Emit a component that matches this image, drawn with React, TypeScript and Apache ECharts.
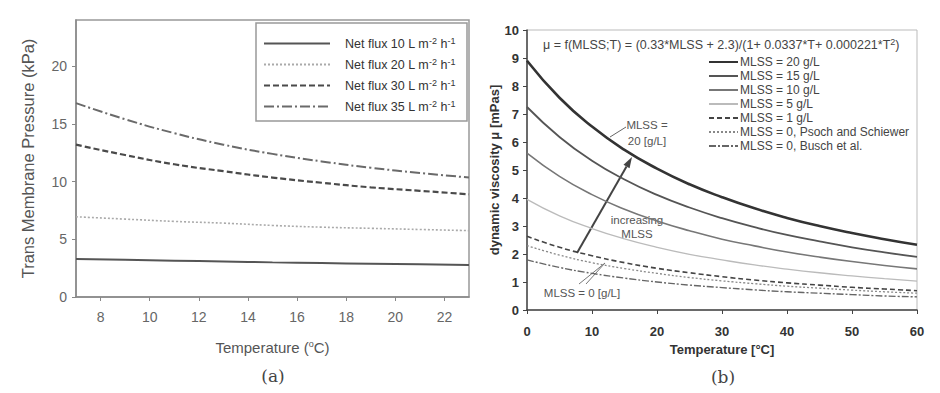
import React, { useEffect, useRef } from "react";
import * as echarts from "echarts";

// ---------- data ----------
const leftT = [7, 9, 11, 13, 15, 17, 19, 21, 23];
const flux10 = [3.3, 3.22, 3.15, 3.08, 3.0, 2.94, 2.88, 2.83, 2.78];
const flux20 = [6.95, 6.75, 6.55, 6.4, 6.2, 6.05, 5.95, 5.85, 5.75];
const flux30 = [13.2, 12.3, 11.5, 10.9, 10.35, 9.9, 9.5, 9.2, 8.9];
const flux35 = [16.8, 15.4, 14.2, 13.2, 12.4, 11.75, 11.2, 10.75, 10.35];
const leftXTicks = [8, 10, 12, 14, 16, 18, 20, 22];
const leftYTicks = [0, 5, 10, 15, 20];

const rightT = [0, 5, 10, 15, 20, 25, 30, 35, 40, 45, 50, 55, 60];
const mlss20 = [8.9, 7.58, 6.55, 5.72, 5.05, 4.49, 4.03, 3.63, 3.29, 3.0, 2.75, 2.53, 2.33];
const mlss15 = [7.25, 6.18, 5.33, 4.66, 4.11, 3.66, 3.28, 2.96, 2.68, 2.45, 2.24, 2.06, 1.9];
const mlss10 = [5.6, 4.77, 4.12, 3.6, 3.18, 2.83, 2.53, 2.29, 2.07, 1.89, 1.73, 1.59, 1.47];
const mlss5 = [3.95, 3.36, 2.91, 2.54, 2.24, 1.99, 1.79, 1.61, 1.46, 1.33, 1.22, 1.12, 1.03];
const mlss1 = [2.63, 2.24, 1.94, 1.69, 1.49, 1.33, 1.19, 1.07, 0.97, 0.89, 0.81, 0.75, 0.69];
const psoch0 = [2.3, 1.96, 1.69, 1.48, 1.31, 1.16, 1.04, 0.94, 0.85, 0.78, 0.71, 0.65, 0.6];
const busch0 = [1.79, 1.52, 1.31, 1.14, 1.0, 0.89, 0.8, 0.72, 0.65, 0.6, 0.55, 0.5, 0.47];

const leftNames = [
  "Net flux 10 L m-2 h-1",
  "Net flux 20 L m-2 h-1",
  "Net flux 30 L m-2 h-1",
  "Net flux 35 L m-2 h-1",
];
const rightNames = [
  "MLSS = 20 g/L",
  "MLSS = 15 g/L",
  "MLSS = 10 g/L",
  "MLSS = 5 g/L",
  "MLSS = 1 g/L",
  "MLSS = 0, Psoch and Schiewer",
  "MLSS = 0, Busch et al.",
];

const zip = (xs: number[], ys: number[]) => xs.map((x, i) => [x, ys[i]]);

const supRich = {
  s: { fontSize: 9, lineHeight: 6, verticalAlign: "top" as const },
};

export default function App() {
  const ref = useRef<HTMLDivElement>(null);

  useEffect(() => {
    if (!ref.current) return;
    const chart = echarts.init(ref.current, undefined, { renderer: "svg" });

    const leftStyles = [
      { color: "#555", width: 2, type: "solid" as any },
      { color: "#aaa", width: 1.6, type: [2, 2] as any },
      { color: "#4a4a4a", width: 2.2, type: [6, 3] as any },
      { color: "#6a6a6a", width: 2, type: [10, 3, 2, 3] as any },
    ];
    const leftData = [flux10, flux20, flux30, flux35];
    const rightStyles = [
      { color: "#333", width: 2.6, type: "solid" as any },
      { color: "#555", width: 1.8, type: "solid" as any },
      { color: "#777", width: 1.6, type: "solid" as any },
      { color: "#bbb", width: 1.3, type: "solid" as any },
      { color: "#444", width: 1.6, type: [5, 3] as any },
      { color: "#888", width: 1.3, type: [2, 2] as any },
      { color: "#666", width: 1.4, type: [7, 2, 2, 2] as any },
    ];
    const rightData = [mlss20, mlss15, mlss10, mlss5, mlss1, psoch0, busch0];

    const series: any[] = [];
    leftNames.forEach((n, i) => {
      series.push({
        type: "line",
        name: n,
        xAxisIndex: 0,
        yAxisIndex: 0,
        data: zip(leftT, leftData[i]),
        smooth: true,
        showSymbol: false,
        symbol: "none",
        lineStyle: leftStyles[i],
        itemStyle: { color: leftStyles[i].color },
      });
    });
    rightNames.forEach((n, i) => {
      series.push({
        type: "line",
        name: n,
        xAxisIndex: 1,
        yAxisIndex: 1,
        data: zip(rightT, rightData[i]),
        smooth: true,
        showSymbol: false,
        symbol: "none",
        lineStyle: rightStyles[i],
        itemStyle: { color: rightStyles[i].color },
      });
    });

    const font = "Liberation Sans, Arial, sans-serif";

    // arrow geometry
    const tip = [632, 157];
    const tail = [577, 253];
    const dx = tip[0] - tail[0];
    const dy = tip[1] - tail[1];
    const len = Math.sqrt(dx * dx + dy * dy);
    const ux = dx / len;
    const uy = dy / len;
    const bx = tip[0] - 11 * ux;
    const by = tip[1] - 11 * uy;
    const px = -uy;
    const py = ux;

    chart.setOption({
      animation: false,
      textStyle: { fontFamily: font },
      grid: [
        {
          left: 76,
          top: 20,
          width: 393,
          height: 277,
          show: true,
          borderColor: "#999",
          borderWidth: 1.5,
          backgroundColor: "transparent",
        },
        {
          left: 527,
          top: 30,
          width: 390,
          height: 280,
          show: true,
          borderColor: "#bbb",
          borderWidth: 1,
          backgroundColor: "transparent",
        },
      ],
      xAxis: [
        {
          type: "value",
          gridIndex: 0,
          min: 7,
          max: 23,
          splitLine: { show: false },
          axisLine: { lineStyle: { color: "#888", width: 1.5 } },
          axisTick: {
            customValues: leftXTicks,
            length: 4,
            lineStyle: { color: "#888" },
          },
          axisLabel: {
            customValues: leftXTicks,
            fontSize: 14,
            color: "#666",
            margin: 13,
          },
          name: "Temperature ({s|o}C)",
          nameLocation: "middle",
          nameGap: 42,
          nameTextStyle: {
            fontSize: 15,
            color: "#555",
            lineHeight: 16,
            rich: { s: { fontSize: 9, lineHeight: 8, verticalAlign: "top" } },
          },
        },
        {
          type: "value",
          gridIndex: 1,
          min: 0,
          max: 60,
          interval: 10,
          splitLine: { show: false },
          axisLine: { lineStyle: { color: "#444", width: 1.5 } },
          axisTick: { length: 4, lineStyle: { color: "#444" } },
          axisLabel: {
            fontSize: 13,
            fontWeight: "bold",
            color: "#333",
            margin: 15,
          },
          name: "Temperature [°C]",
          nameLocation: "middle",
          nameGap: 33,
          nameTextStyle: { fontSize: 13, fontWeight: "bold", color: "#333" },
        },
      ],
      yAxis: [
        {
          type: "value",
          gridIndex: 0,
          min: 0,
          max: 24,
          splitLine: { show: false },
          axisLine: { show: true, lineStyle: { color: "#888", width: 1.5 } },
          axisTick: {
            show: true,
            customValues: leftYTicks,
            length: 4,
            lineStyle: { color: "#888" },
          },
          axisLabel: {
            customValues: leftYTicks,
            fontSize: 14,
            color: "#666",
            margin: 9,
          },
          name: "Trans Membrane Pressure (kPa)",
          nameLocation: "middle",
          nameRotate: 90,
          nameGap: 40,
          nameTextStyle: { fontSize: 16.5, color: "#555" },
        },
        {
          type: "value",
          gridIndex: 1,
          min: 0,
          max: 10,
          interval: 1,
          splitLine: { show: false },
          axisLine: { show: true, lineStyle: { color: "#444", width: 1.5 } },
          axisTick: { show: true, length: 4, lineStyle: { color: "#444" } },
          axisLabel: {
            fontSize: 13,
            fontWeight: "bold",
            color: "#333",
            margin: 8,
          },
          name: "dynamic viscosity μ [mPas]",
          nameLocation: "middle",
          nameRotate: 90,
          nameGap: 25,
          nameTextStyle: { fontSize: 13, fontWeight: "bold", color: "#333" },
        },
      ],
      legend: [
        {
          data: leftNames,
          orient: "vertical",
          left: 263,
          top: 36,
          itemWidth: 66,
          itemHeight: 14,
          itemGap: 6,
          padding: 0,
          itemStyle: { opacity: 0 },
          formatter: (name: string) =>
            name.replace("m-2", "m{s|-2}").replace("h-1", "h{s|-1}"),
          textStyle: {
            fontSize: 12.5,
            color: "#333",
            lineHeight: 15,
            padding: [0, 0, 0, 10],
            rich: supRich,
          },
        },
        {
          data: rightNames,
          orient: "vertical",
          left: 708,
          top: 56,
          itemWidth: 29,
          itemHeight: 14,
          itemGap: 2,
          padding: 0,
          itemStyle: { opacity: 0 },
          textStyle: { fontSize: 12, color: "#444", padding: [0, 0, 0, -3] },
        },
      ],
      graphic: [
        {
          type: "rect",
          shape: { x: 256, y: 23, width: 211, height: 98 },
          style: { fill: "none", stroke: "#999", lineWidth: 1.5 },
        },
        {
          type: "text",
          x: 543,
          y: 45,
          style: {
            text: "μ = f(MLSS;T) = (0.33*MLSS + 2.3)/(1+ 0.0337*T+ 0.000221*T{s|2})",
            fontSize: 12.5,
            fontFamily: font,
            fill: "#444",
            lineHeight: 15,
            verticalAlign: "middle",
            rich: supRich,
          },
        },
        {
          type: "text",
          x: 647,
          y: 133,
          style: {
            text: "MLSS =\n20 [g/L]",
            fontSize: 11.5,
            fontFamily: font,
            fill: "#555",
            lineHeight: 16,
            align: "center",
            verticalAlign: "middle",
          },
        },
        {
          type: "line",
          shape: { x1: 626, y1: 127, x2: 610, y2: 137 },
          style: { stroke: "#666", lineWidth: 1 },
        },
        {
          type: "text",
          x: 637,
          y: 227,
          style: {
            text: "increasing\nMLSS",
            fontSize: 11.5,
            fontFamily: font,
            fill: "#555",
            lineHeight: 14,
            align: "center",
            verticalAlign: "middle",
          },
        },
        {
          type: "line",
          shape: { x1: tail[0], y1: tail[1], x2: bx, y2: by },
          style: { stroke: "#444", lineWidth: 2 },
        },
        {
          type: "polygon",
          shape: {
            points: [
              [tip[0], tip[1]],
              [bx + 3.5 * px, by + 3.5 * py],
              [bx - 3.5 * px, by - 3.5 * py],
            ],
          },
          style: { fill: "#444" },
        },
        {
          type: "text",
          x: 582,
          y: 293,
          style: {
            text: "MLSS = 0 [g/L]",
            fontSize: 11.5,
            fontFamily: font,
            fill: "#555",
            align: "center",
            verticalAlign: "middle",
          },
        },
        {
          type: "line",
          shape: { x1: 579, y1: 284, x2: 605, y2: 263 },
          style: { stroke: "#777", lineWidth: 1 },
        },
        {
          type: "line",
          shape: { x1: 586, y1: 284, x2: 605, y2: 263 },
          style: { stroke: "#777", lineWidth: 1 },
        },
        {
          type: "text",
          x: 273,
          y: 376,
          style: {
            text: "(a)",
            fontSize: 17,
            fontFamily: "DejaVu Serif, Liberation Serif, serif",
            fill: "#444",
            align: "center",
            verticalAlign: "middle",
          },
        },
        {
          type: "text",
          x: 723,
          y: 377,
          style: {
            text: "(b)",
            fontSize: 17,
            fontFamily: "DejaVu Serif, Liberation Serif, serif",
            fill: "#444",
            align: "center",
            verticalAlign: "middle",
          },
        },
      ],
      series,
    });

    return () => {
      chart.dispose();
    };
  }, []);

  return (
    <div
      ref={ref}
      style={{ position: "fixed", left: 0, top: 0, width: 940, height: 393, background: "#fff" }}
    />
  );
}
